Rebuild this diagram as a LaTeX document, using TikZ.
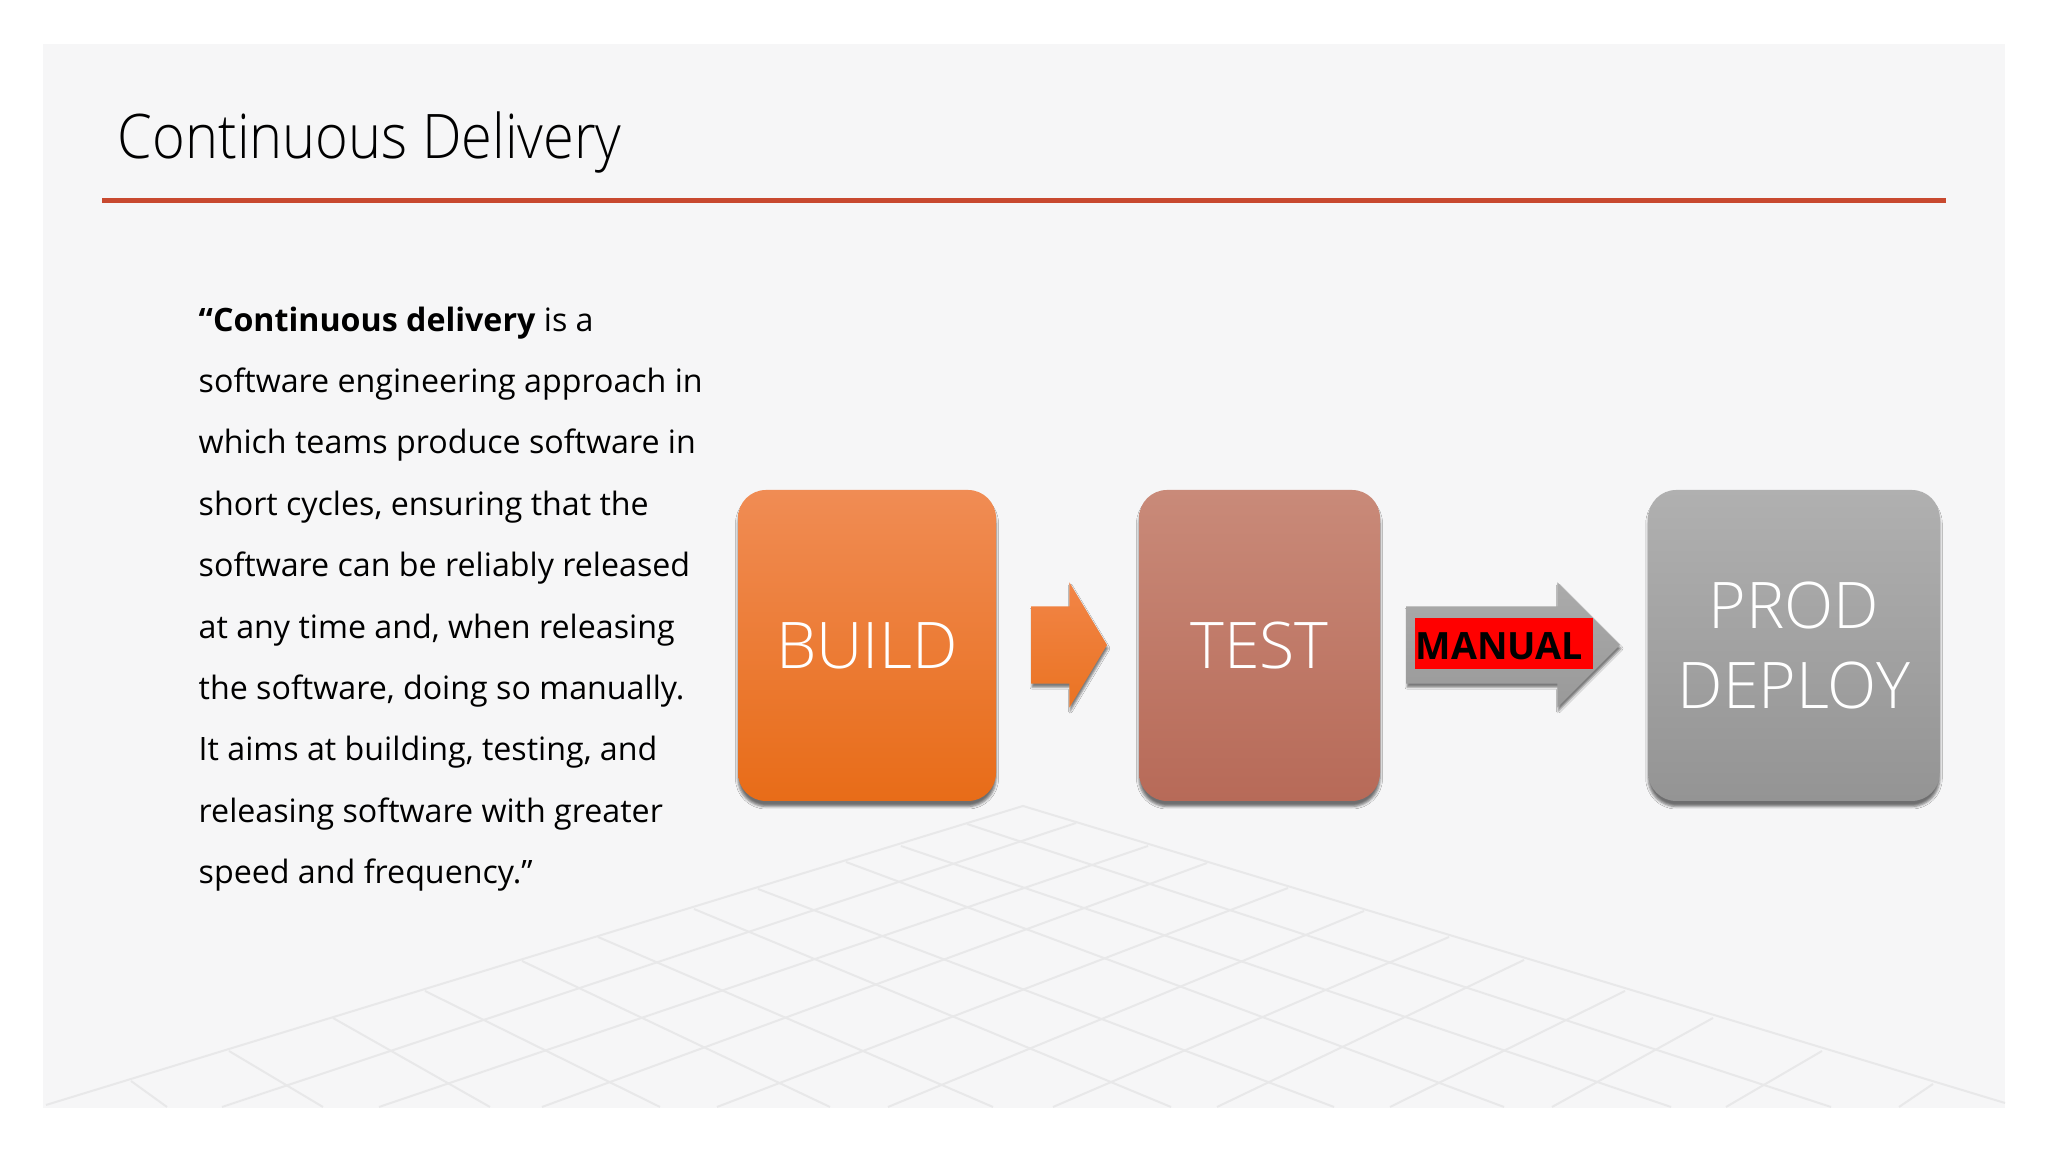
\documentclass[tikz,border=0pt]{standalone}
\usepackage{fontspec}
\setmainfont{Open Sans}
\newfontfamily\lightfont{Open Sans Light}
\newfontfamily\titlefont{Open Sans Light}[FakeStretch=0.91]
\usetikzlibrary{shapes.arrows,shadows.blur}

\definecolor{rulered}{HTML}{C8492F}
\definecolor{panelgray}{HTML}{F6F6F7}
\definecolor{floorgray}{HTML}{E8E8E9}

\tikzset{
  stagebox/.style={rounded corners=0.28cm, minimum height=3.11cm, text=white,
    font=\lightfont\fontsize{18.3}{22.6}\selectfont, align=center, inner sep=0pt, outer sep=0pt,
    blur shadow={shadow xshift=0cm, shadow yshift=-0.055cm, shadow blur radius=0.025cm, shadow blur steps=4, shadow opacity=55}},
  stagearrow/.style={shape=single arrow, single arrow head extend=0.24cm, inner xsep=0pt, inner ysep=0.38cm, outer sep=0pt, anchor=tip,
    blur shadow={shadow xshift=0.01cm, shadow yshift=-0.035cm, shadow blur radius=0.02cm, shadow blur steps=3, shadow opacity=50}},
  floorline/.style={draw=floorgray, line width=0.02cm}
}

\begin{document}
\begin{tikzpicture}
\useasboundingbox (0,0) rectangle (20.48,11.52);
\fill[white] (0,0) rectangle (20.48,11.52);
\fill[panelgray] (0.43,0.44) rectangle (20.05,11.08);

% floor
\draw[floorline] (0.46,0.47) -- (10.23,3.46) -- (20.05,0.49);
\foreach \x/\y/\z in {1.31/0.71/1.67, 2.29/1.01/3.23, 3.33/1.34/4.90, 4.25/1.61/6.60, 5.22/1.91/8.30, 5.98/2.15/9.93, 6.94/2.43/11.71, 7.58/2.63/13.34, 8.46/2.90/15.04, 9.01/3.06/16.71, 9.67/3.28/18.31, 19.33/0.68/18.99, 18.22/1.01/17.26, 17.13/1.34/15.52, 16.25/1.61/13.90, 15.24/1.92/12.17, 14.49/2.15/10.53, 13.64/2.41/8.88, 12.88/2.64/7.17, 12.07/2.89/5.42, 11.48/3.06/3.79, 10.76/3.29/2.22}
  \draw[floorline] (\x,\y) -- (\z,0.45);

% title
\node[anchor=base west, inner sep=0pt, font=\titlefont\fontsize{17.5}{20}\selectfont] (title) at (1.17,9.93) {Continuous Delivery};
\fill[rulered] (1.02,9.49) rectangle (19.46,9.54);

% quote
\node[anchor=north west, inner sep=0pt, align=left, font=\fontsize{9.16}{17.47}\selectfont] (quote) at (1.98,8.46) {%
\textbf{“Continuous delivery} is a\\
software engineering approach in\\
which teams produce software in\\
short cycles, ensuring that the\\
software can be reliably released\\
at any time and, when releasing\\
the software, doing so manually.\\
It aims at building, testing, and\\
releasing software with greater\\
speed and frequency.”};

% stages
\node[stagebox, minimum width=2.58cm, top color={rgb,255:red,240;green,140;blue,84}, middle color={rgb,255:red,246;green,127;blue,40}, bottom color={rgb,255:red,232;green,108;blue,24}] (build) at (8.67,5.065) {BUILD};
\node[stagebox, minimum width=2.41cm, top color={rgb,255:red,201;green,138;blue,121}, bottom color={rgb,255:red,183;green,106;blue,88}] (test) at (12.595,5.065) {TEST};
\node[stagebox, minimum width=2.915cm, top color=black!31, bottom color=black!42] (deploy) at (17.94,5.065) {PROD\\DEPLOY};

\node[stagearrow, minimum height=0.76cm, single arrow tip angle=118, top color={rgb,255:red,242;green,133;blue,71}, bottom color={rgb,255:red,234;green,115;blue,34}] (smallarrow) at (11.07,5.07) {};
\node[stagearrow, minimum height=2.14cm, single arrow tip angle=90, top color=black!33, bottom color=black!40] (bigarrow) at (16.20,5.07) {};

\node[fill=red, minimum width=1.786cm, minimum height=0.51cm, inner sep=0pt] (manualbox) at (15.04,5.085) {};
\node[text=black, inner sep=0pt, font=\bfseries\fontsize{10.7}{12}\selectfont] (manual) at (14.995,5.055) {MANUAL};
\end{tikzpicture}
\end{document}
